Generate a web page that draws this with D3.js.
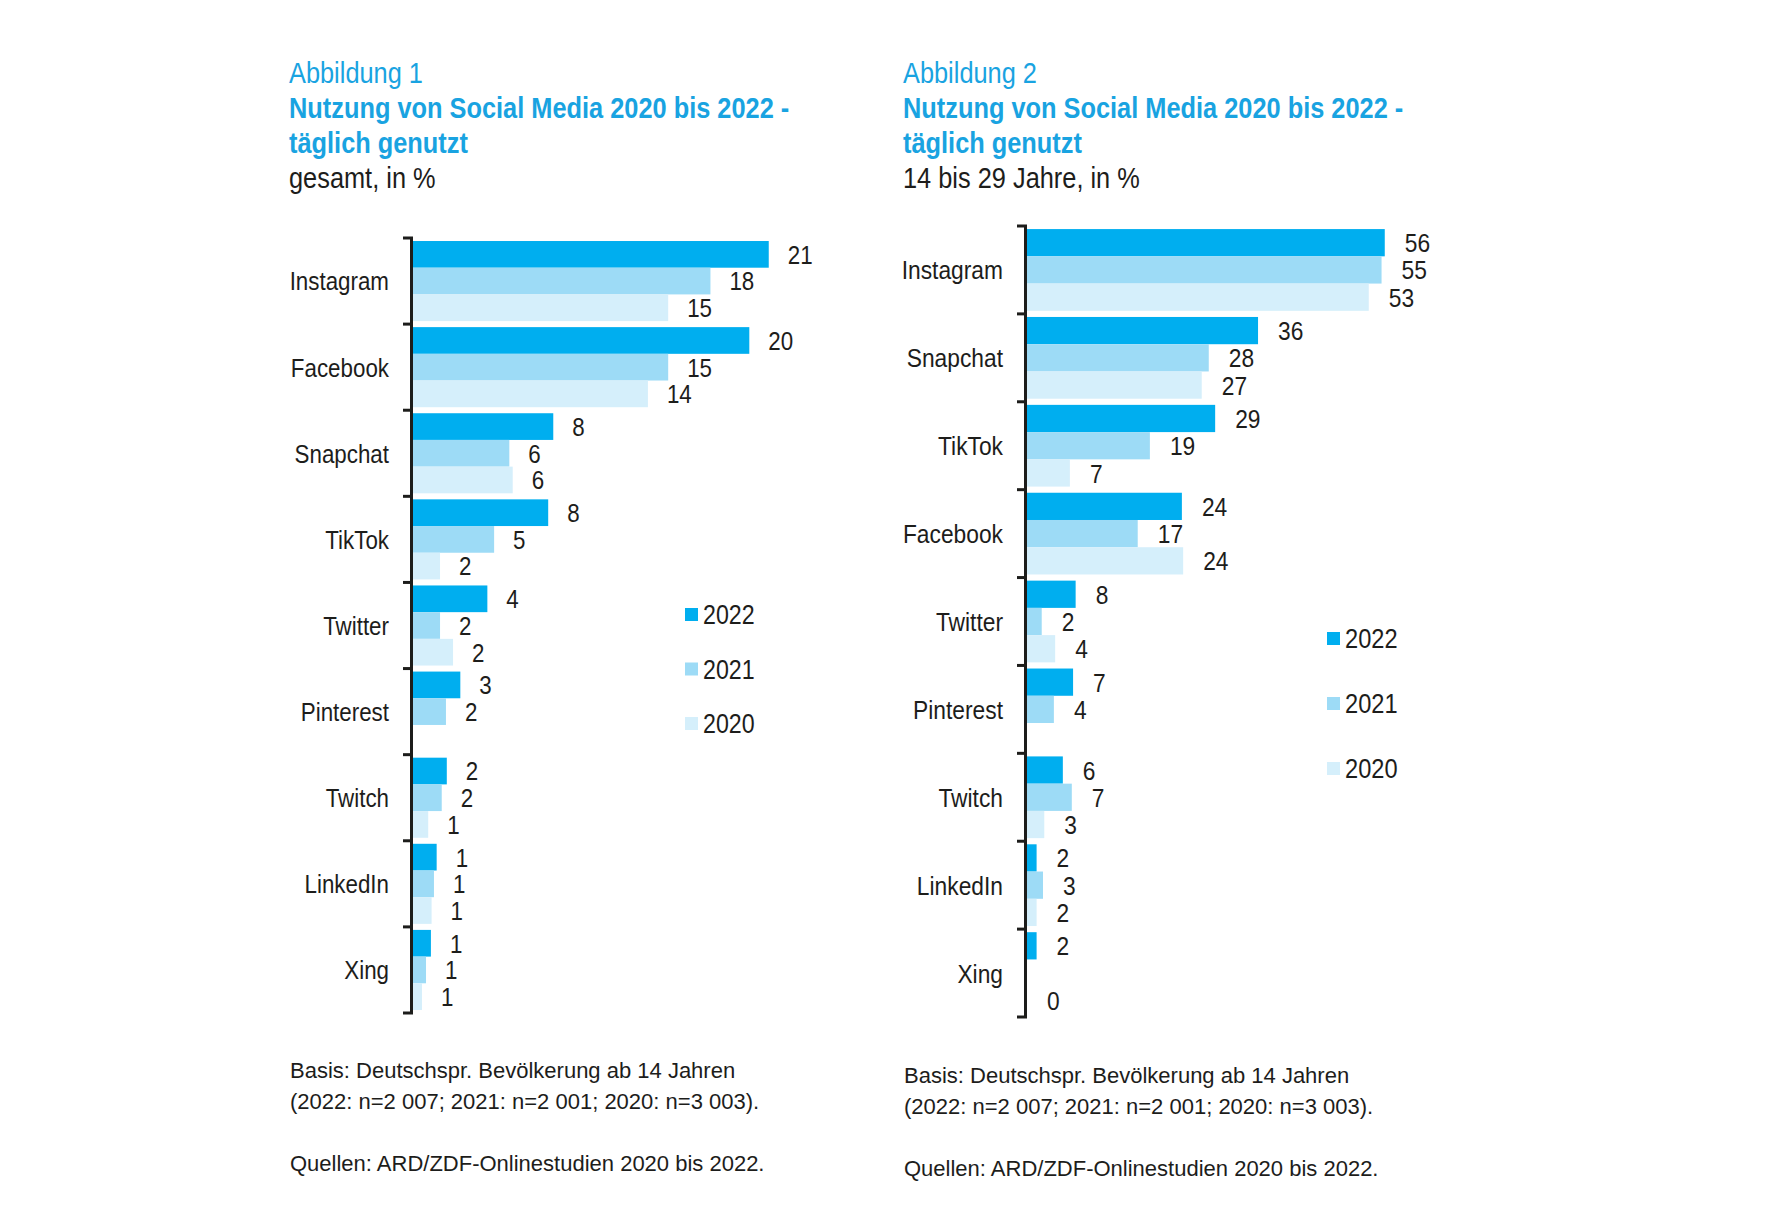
<!DOCTYPE html>
<html>
<head>
<meta charset="utf-8">
<script src="https://cdn.jsdelivr.net/npm/d3@7"></script>
<style>
  body { margin: 0; background: #fff; }
  svg text { font-family: "Liberation Sans", Arial, Helvetica, sans-serif; }
</style>
</head>
<body>
<div id="chart"></div>
<script>
var years = ["2022", "2021", "2020"];

// Abbildung 1: gesamt
var categories1 = ["Instagram", "Facebook", "Snapchat", "TikTok", "Twitter", "Pinterest", "Twitch", "LinkedIn", "Xing"];
var values1_2022 = [21.05, 19.9, 8.3, 8.0, 4.4, 2.8, 2.0, 1.4, 1.06];
var values1_2021 = [17.6, 15.1, 5.7, 4.8, 1.6, 1.95, 1.7, 1.24, 0.77];
var values1_2020 = [15.1, 13.9, 5.9, 1.6, 2.37, null, 0.9, 1.1, 0.53];

// Abbildung 2: 14 bis 29 Jahre
var categories2 = ["Instagram", "Snapchat", "TikTok", "Facebook", "Twitter", "Pinterest", "Twitch", "LinkedIn", "Xing"];
var values2_2022 = [55.9, 36.1, 29.4, 24.2, 7.6, 7.2, 5.6, 1.5, 1.5];
var values2_2021 = [55.4, 28.4, 19.2, 17.3, 2.3, 4.2, 7.0, 2.5, null];
var values2_2020 = [53.4, 27.3, 6.7, 24.4, 4.4, null, 2.7, 1.5, 0];

var titleLabels1 = ["Abbildung 1", "Nutzung von Social Media 2020 bis 2022 -", "täglich genutzt", "gesamt, in %"];
var titleLabels2 = ["Abbildung 2", "Nutzung von Social Media 2020 bis 2022 -", "täglich genutzt", "14 bis 29 Jahre, in %"];
var footLines = ["Basis: Deutschspr. Bevölkerung ab 14 Jahren",
                 "(2022: n=2 007; 2021: n=2 001; 2020: n=3 003).",
                 "",
                 "Quellen: ARD/ZDF-Onlinestudien 2020 bis 2022."];

var colors = { "2022": "#00aeef", "2021": "#9ddbf6", "2020": "#d5effb" };
var titleColor = "#19a3e1";
var inkColor = "#1d1d1b";

// the original uses a condensed grotesque; squeeze the regular face
var squeeze = 0.86;

var svgWidth = 1770;
var svgHeight = 1220;

var svg = d3.select("#chart")
    .append("svg")
    .attr("width", svgWidth)
    .attr("height", svgHeight);

function buildRows(categories, v2022, v2021, v2020) {
    return categories.map(function(c, i) {
        return { category: c, values: { "2022": v2022[i], "2021": v2021[i], "2020": v2020[i] } };
    });
}

function drawPanel(cfg) {
    var g = svg.append("g");

    // title block
    cfg.titles.forEach(function(t, i) {
        g.append("text")
            .attr("transform", `translate(${cfg.titleX}, ${cfg.titleY + i * 35}) scale(${squeeze}, 1)`)
            .attr("font-size", 29.5)
            .attr("font-weight", (i === 1 || i === 2) ? "bold" : "normal")
            .attr("fill", i < 3 ? titleColor : inkColor)
            .text(t);
    });

    var y = d3.scaleBand()
        .domain(cfg.rows.map(d => d.category))
        .range([cfg.top, cfg.bottom])
        .paddingInner(0.07)
        .paddingOuter(0.035);

    var yInner = d3.scaleBand()
        .domain(years)
        .range([0, y.bandwidth()]);

    var x = d3.scaleLinear()
        .domain([0, 1])
        .range([cfg.axisX, cfg.axisX + cfg.unit]);

    var groups = g.selectAll("g.row")
        .data(cfg.rows)
        .enter()
        .append("g")
        .attr("class", "row")
        .attr("transform", d => `translate(0, ${y(d.category)})`);

    var cells = groups.selectAll("g.cell")
        .data(d => years.map(yr => ({ year: yr, value: d.values[yr] })).filter(e => e.value !== null))
        .enter()
        .append("g")
        .attr("class", "cell");

    cells.append("rect")
        .attr("x", x(0))
        .attr("y", d => yInner(d.year))
        .attr("width", d => x(d.value) - x(0))
        .attr("height", yInner.bandwidth())
        .attr("fill", d => colors[d.year]);

    cells.append("text")
        .attr("transform", d => `translate(${x(d.value) + cfg.labelGap}, ${yInner(d.year) + yInner.bandwidth() / 2}) scale(${squeeze}, 1)`)
        .attr("dy", "0.36em")
        .attr("font-size", cfg.fontSize)
        .attr("fill", inkColor)
        .text(d => Math.round(d.value));

    groups.append("text")
        .attr("transform", `translate(${cfg.axisX - 24}, ${y.bandwidth() / 2}) scale(${squeeze}, 1)`)
        .attr("dy", "0.36em")
        .attr("text-anchor", "end")
        .attr("font-size", cfg.fontSize)
        .attr("fill", inkColor)
        .text(d => d.category);

    // bracket axis with ticks between the groups
    var bounds = cfg.rows.map(d => y(d.category) - y.step() * y.paddingInner() / 2);
    bounds.push(bounds[bounds.length - 1] + y.step());

    g.append("line")
        .attr("x1", cfg.axisX - 1.5)
        .attr("x2", cfg.axisX - 1.5)
        .attr("y1", bounds[0])
        .attr("y2", bounds[bounds.length - 1])
        .attr("stroke", inkColor)
        .attr("stroke-width", 3);

    g.selectAll("line.tick")
        .data(bounds)
        .enter()
        .append("line")
        .attr("class", "tick")
        .attr("x1", cfg.axisX - 10)
        .attr("x2", cfg.axisX)
        .attr("y1", d => d)
        .attr("y2", d => d)
        .attr("stroke", inkColor)
        .attr("stroke-width", 3);

    // legend
    var legend = g.selectAll("g.legend")
        .data(years)
        .enter()
        .append("g")
        .attr("class", "legend")
        .attr("transform", (d, i) => `translate(${cfg.legendX}, ${cfg.legendY + i * cfg.legendStep})`);

    legend.append("rect")
        .attr("width", 13)
        .attr("height", 13)
        .attr("fill", d => colors[d]);

    legend.append("text")
        .attr("transform", `translate(18, 6.5) scale(${squeeze}, 1)`)
        .attr("dy", "0.36em")
        .attr("font-size", cfg.fontSize + 1)
        .attr("fill", inkColor)
        .text(d => d);

    // footnote
    footLines.forEach(function(t, i) {
        g.append("text")
            .attr("x", cfg.titleX + 1)
            .attr("y", cfg.footY + i * 31)
            .attr("font-size", 22)
            .attr("fill", inkColor)
            .text(t);
    });
}

drawPanel({
    rows: buildRows(categories1, values1_2022, values1_2021, values1_2020),
    titles: titleLabels1,
    titleX: 289, titleY: 83,
    axisX: 413, unit: 16.9,
    top: 238, bottom: 1013,
    labelGap: 19, fontSize: 26,
    legendX: 685, legendY: 608, legendStep: 54.5,
    footY: 1078
});

drawPanel({
    rows: buildRows(categories2, values2_2022, values2_2021, values2_2020),
    titles: titleLabels2,
    titleX: 903, titleY: 83,
    axisX: 1027, unit: 6.4,
    top: 226, bottom: 1017,
    labelGap: 20, fontSize: 26.5,
    legendX: 1327, legendY: 632, legendStep: 65,
    footY: 1083
});
</script>
</body>
</html>
